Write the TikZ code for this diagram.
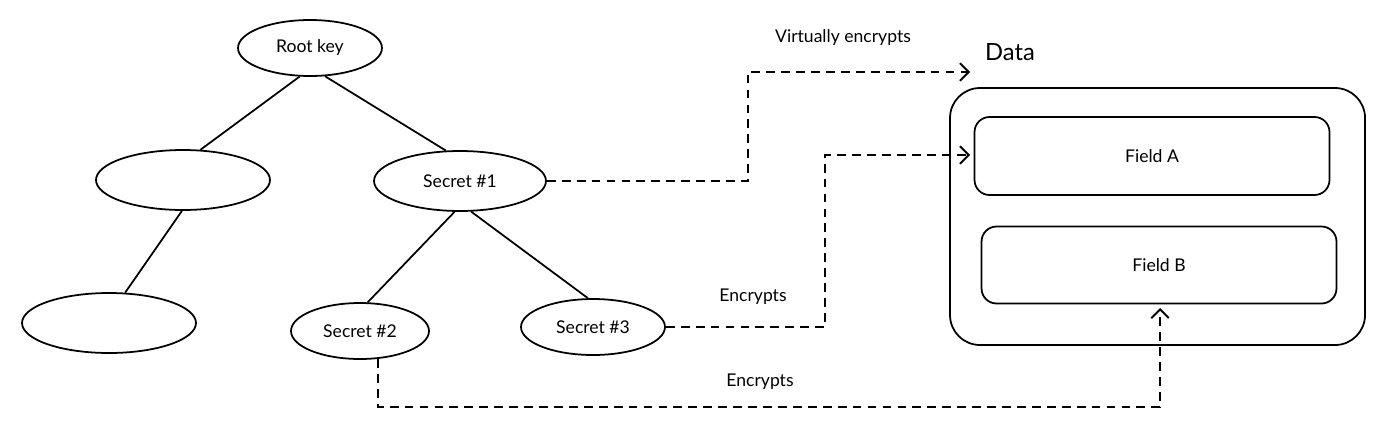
\documentclass[tikz,border=0pt]{standalone}
\usepackage{fontspec}
\setmainfont{Lato}
\usetikzlibrary{arrows.meta,shapes.geometric}
\begin{document}
\begin{tikzpicture}[x=0.02cm,y=-0.02cm,
  el/.style={draw,ellipse,line width=1pt,font=\fontsize{10}{12}\selectfont,inner sep=0pt},
  tree/.style={line width=1pt},
  con/.style={line width=1.1pt,dash pattern=on 5pt off 3.5pt,-{Straight Barb[length=5pt,width=10pt,line width=1.1pt]}},
  box/.style={draw,line width=1pt,font=\fontsize{10}{12}\selectfont},
  lab/.style={font=\fontsize{10}{12}\selectfont}]
\useasboundingbox (0,0) rectangle (1398,443);
\node[el,minimum width=2.88cm,minimum height=1.12cm] (root) at (310,48) {Root key};
\node[el,minimum width=3.48cm,minimum height=1.2cm] (lm) at (183,180) {};
\node[el,minimum width=3.44cm,minimum height=1.2cm] (s1) at (460,181) {Secret \#1};
\node[el,minimum width=3.48cm,minimum height=1.2cm] (lb) at (109,323) {};
\node[el,minimum width=2.76cm,minimum height=1.12cm] (s2) at (360,331) {Secret \#2};
\node[el,minimum width=2.88cm,minimum height=1.12cm] (s3) at (593,327) {Secret \#3};
\draw[tree] (root.-110) -- (lm.60);
\draw[tree] (root.-62) -- (s1.115);
\draw[tree] (lm.-92) -- (lb.62);
\draw[tree] (s1.-100) -- (s2.75);
\draw[tree] (s1.-70) -- (s3.100);
\draw[box,rounded corners=0.6cm] (950,88) rectangle (1365,345);
\node[box,rounded corners=0.3cm,minimum width=7.1cm,minimum height=1.56cm] (fa) at (1152,156) {Field A};
\node[box,rounded corners=0.3cm,minimum width=7.1cm,minimum height=1.54cm] (fb) at (1159,265) {Field B};
\node[font=\fontsize{13.5}{16}\selectfont] (data) at (1010,52) {Data};
\coordinate (t1) at (970,72);
\coordinate (t2) at (970,155);
\coordinate (t3) at (1160,308);
\draw[con] (s1.east) -- (748,181) -- (748,72) -- (t1);
\draw[con] (s3.east) -- (825,327) -- (825,155) -- (t2);
\draw[con] (378,359) -- (378,407) -- (1160,407) -- (t3);
\node[lab] (l1) at (843,38) {Virtually encrypts};
\node[lab] (l2) at (753,297) {Encrypts};
\node[lab] (l3) at (760,382) {Encrypts};
\end{tikzpicture}
\end{document}
